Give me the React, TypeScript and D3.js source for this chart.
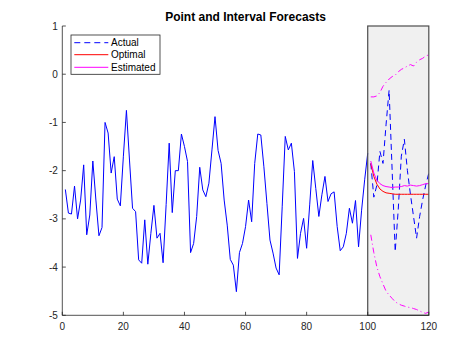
import React from "react";
import * as d3 from "d3";

const actualHistory: number[] = [
  -2.39, -2.88, -2.9, -2.32, -3.0, -2.61, -1.88, -3.33, -2.92, -1.8,
  -2.61, -3.35, -3.18, -1.0, -1.22, -2.05, -1.71, -2.59, -2.73, -1.7,
  -0.75, -1.78, -2.78, -2.85, -3.85, -3.92, -3.02, -3.94, -3.3, -2.72,
  -3.4, -3.3, -3.91, -2.7, -1.43, -2.87, -2.0, -2.0, -1.24, -1.5,
  -1.81, -3.7, -3.51, -2.95, -1.93, -2.4, -2.54, -2.26, -1.57, -0.88,
  -1.58, -1.85, -2.61, -3.13, -3.84, -3.96, -4.51, -3.7, -3.51, -3.16,
  -2.61, -3.06, -1.85, -1.24, -1.26, -1.92, -2.68, -3.44, -3.71, -4.02,
  -4.16, -2.75, -1.29, -1.57, -1.43, -2.02, -3.82, -3.3, -2.99, -3.61,
  -2.71, -1.79, -2.37, -2.95, -2.5, -2.12, -2.64, -2.48, -2.44, -3.16,
  -3.66, -3.58, -3.3, -2.78, -3.09, -2.62, -3.58, -2.82, -2.19, -1.64,
];

const actualFuture: number[] = [
  -1.85, -2.55, -2.3, -1.6, -1.85, -1.05, -0.33, -2.0, -3.68, -2.8,
  -1.7, -1.35, -2.0, -2.5, -2.95, -3.4, -2.95, -2.6, -2.3, -2.05,
];

const optimal: number[] = [
  -1.85, -2.12, -2.28, -2.38, -2.43, -2.46, -2.47, -2.48, -2.49, -2.49,
  -2.49, -2.49, -2.49, -2.49, -2.49, -2.49, -2.49, -2.49, -2.49, -2.49,
];

const estimated: number[] = [
  -1.8, -2.05, -2.2, -2.27, -2.31, -2.33, -2.34, -2.35, -2.34, -2.34,
  -2.33, -2.31, -2.32, -2.3, -2.31, -2.32, -2.31, -2.29, -2.27, -2.27,
];

const upper: number[] = [
  -0.47, -0.47, -0.45, -0.38, -0.25, -0.17, -0.1, -0.05, -0.02, 0.05,
  0.1, 0.13, 0.17, 0.2, 0.17, 0.25, 0.3, 0.33, 0.38, 0.4,
];

const lower: number[] = [
  -3.33, -3.7, -4.0, -4.2, -4.35, -4.5, -4.58, -4.65, -4.72, -4.76,
  -4.79, -4.81, -4.83, -4.84, -4.86, -4.88, -4.91, -4.94, -4.96, -4.93,
];

const xTicks: number[] = [0, 20, 40, 60, 80, 100, 120];
const yTicks: number[] = [-5, -4, -3, -2, -1, 0, 1];
const legendLabels: string[] = ["Actual", "Optimal", "Estimated"];

const W = 474;
const H = 355;
const L = 62.3;
const R = 428.8;
const T = 26;
const B = 315.3;
const AX = "#262626";
const FONT = "Arial, 'Liberation Sans', Helvetica, sans-serif";

export default function App() {
  const x = d3.scaleLinear().domain([0, 120]).range([L, R]);
  const y = d3.scaleLinear().domain([-5, 1]).range([B, T]);

  const line = d3
    .line<[number, number]>()
    .x((d) => x(d[0]))
    .y((d) => y(d[1]));

  const hist = actualHistory.map((v, i) => [i + 1, v] as [number, number]);
  const fut = (arr: number[]) => arr.map((v, i) => [i + 101, v] as [number, number]);

  const legendColors = ["#0000ff", "#ff0000", "#ff00ff"];
  const legendDash = ["6,4", "none", "none"];
  const legendY = [42.7, 54.7, 67.3];

  return (
    <svg
      width={W}
      height={H}
      style={{ position: "absolute", left: 0, top: 0, background: "#fff" }}
      fontFamily={FONT}
    >
      <defs>
        <clipPath id="plotclip">
          <rect x={L} y={T} width={R - L} height={B - T} />
        </clipPath>
      </defs>
      <rect x={0} y={0} width={W} height={H} fill="#fff" />
      {/* forecast region */}
      <rect
        x={x(100)}
        y={y(1)}
        width={x(120) - x(100)}
        height={y(-5) - y(1)}
        fill="#f0f0f0"
      />
      <g clipPath="url(#plotclip)" fill="none">
        <path d={line(hist) ?? ""} stroke="#0000ff" strokeWidth={1} />
        <path d={line(fut(actualFuture)) ?? ""} stroke="#0000ff" strokeWidth={1} strokeDasharray="6,4" />
        <path d={line(fut(optimal)) ?? ""} stroke="#ff0000" strokeWidth={1} />
        <path d={line(fut(estimated)) ?? ""} stroke="#ff00ff" strokeWidth={1} />
        <path d={line(fut(upper)) ?? ""} stroke="#ff00ff" strokeWidth={1} strokeDasharray="6,3,1,3" />
        <path d={line(fut(lower)) ?? ""} stroke="#ff00ff" strokeWidth={1} strokeDasharray="6,3,1,3" />
      </g>
      <rect
        x={x(100)}
        y={y(1)}
        width={x(120) - x(100)}
        height={y(-5) - y(1)}
        fill="none"
        stroke="#4d4d4d"
        strokeWidth={1.2}
      />
      {/* axes */}
      <line x1={L} x2={L} y1={T} y2={B} stroke={AX} strokeWidth={0.8} />
      <line x1={L} x2={R} y1={B} y2={B} stroke={AX} strokeWidth={0.8} />
      {yTicks.map((t) => (
        <g key={"y" + t}>
          <line x1={L} x2={L + 3.5} y1={y(t)} y2={y(t)} stroke={AX} strokeWidth={0.8} />
          <text x={L - 4.5} y={y(t) + 3.6} fontSize={10} fill={AX} textAnchor="end">
            {String(t)}
          </text>
        </g>
      ))}
      {xTicks.map((t) => (
        <g key={"x" + t}>
          <line x1={x(t)} x2={x(t)} y1={B} y2={B - 3.5} stroke={AX} strokeWidth={0.8} />
          <text x={x(t)} y={B + 15} fontSize={10} fill={AX} textAnchor="middle">
            {String(t)}
          </text>
        </g>
      ))}
      {/* title */}
      <text x={(L + R) / 2} y={21} fontSize={12} fontWeight="bold" fill="#000" textAnchor="middle">
        Point and Interval Forecasts
      </text>
      {/* legend */}
      <rect x={71} y={35} width={89} height={39.3} fill="#fff" stroke={AX} strokeWidth={0.8} />
      {legendLabels.map((lab, i) => (
        <g key={lab}>
          <line
            x1={74.3}
            x2={108.3}
            y1={legendY[i]}
            y2={legendY[i]}
            stroke={legendColors[i]}
            strokeWidth={1}
            strokeDasharray={legendDash[i]}
          />
          <text x={111} y={legendY[i] + 3.6} fontSize={10} fill="#000">
            {lab}
          </text>
        </g>
      ))}
    </svg>
  );
}
